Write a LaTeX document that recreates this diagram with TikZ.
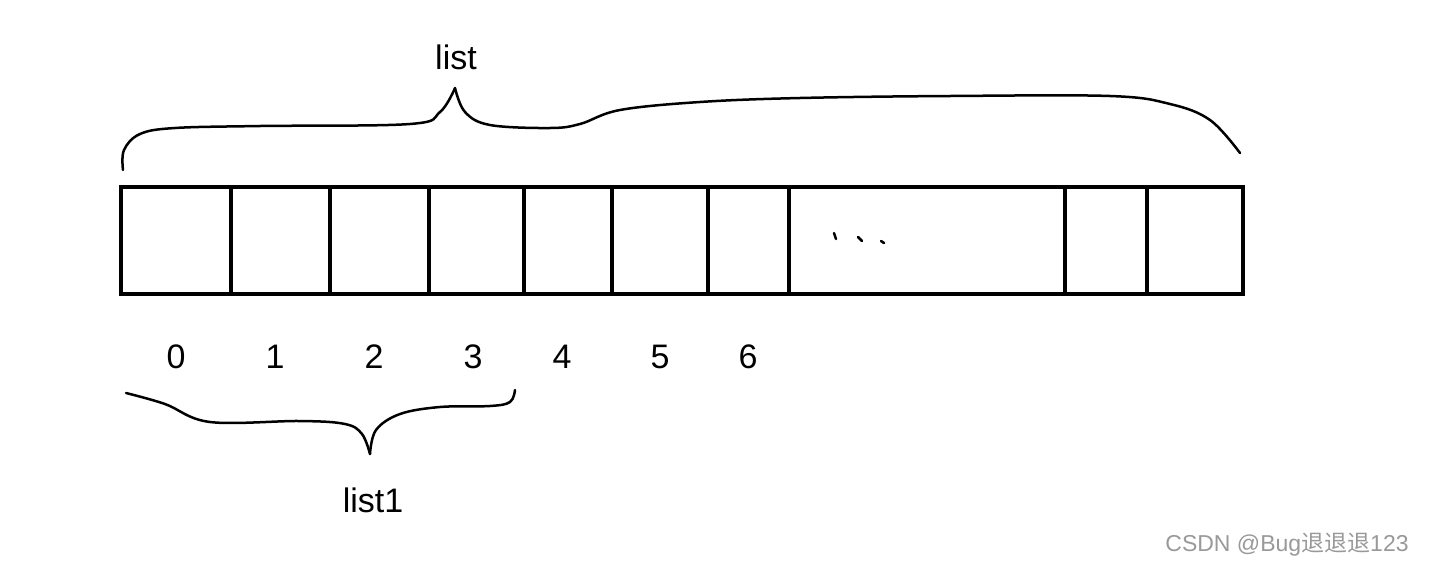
\documentclass[tikz,border=0pt]{standalone}
\usepackage{fontspec}
\setmainfont{Liberation Sans}
\newfontfamily\cjk{Noto Sans CJK SC}
\begin{document}
\begin{tikzpicture}[x=1pt,y=-1pt,
  cell/.style={line width=3.5pt},
  hand/.style={line width=2.5pt,line cap=round,line join=round},
  num/.style={font=\fontsize{34}{34}\selectfont,inner sep=0pt}]
\useasboundingbox (0,0) rectangle (1430,571);
\draw[cell] (121,187) rectangle (1243,294);
\foreach \x in {231,330,429,524,612,708,789,1065,1147}
  \draw[cell] (\x,187) -- (\x,296);
\foreach \x/\t [count=\i] in {176/0,275/1,374/2,473/3,562/4,660/5,748/6}
  \node[num] (n\i) at (\x,357) {\t};
\node[num] (lst) at (456,57) {list};
\node[num] (lst1) at (373,500) {list1};
\draw[hand] (834,233) -- (836,239);
\draw[hand] (858,237) -- (862,241);
\draw[hand] (881,241) -- (884,243);
\draw[hand] plot[smooth,tension=0.6] coordinates {(123,170) (124,150) (140,134) (175,128) (260,126) (410,124) (440,112) (455,88)};
\draw[hand] plot[smooth,tension=0.6] coordinates {(455,88) (465,112) (490,125) (550,128) (580,124) (620,110) (700,102) (800,98) (950,96) (1110,96) (1170,104) (1210,120) (1240,153)};
\draw[hand] plot[smooth,tension=0.6] coordinates {(126,393) (165,404) (210,422) (300,421) (345,424) (362,434) (370,454)};
\draw[hand] plot[smooth,tension=0.6] coordinates {(370,454) (376,430) (400,414) (440,407) (490,406) (510,402) (515,390)};
\node[text=black!40,font=\fontsize{23}{23}\selectfont,inner sep=0pt] (wm) at (1287,545) {CSDN @Bug{\cjk 退退退}123};
\end{tikzpicture}
\end{document}
